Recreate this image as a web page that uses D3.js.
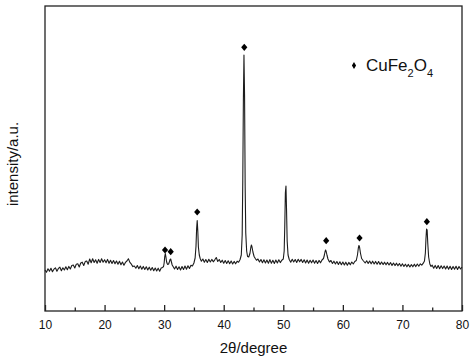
<!DOCTYPE html>
<html>
<head>
<meta charset="utf-8">
<script src="https://cdn.jsdelivr.net/npm/d3@7"></script>
<style>
  html, body { margin: 0; padding: 0; background: #fff; }
  svg { display: block; font-family: Arial, "Liberation Sans", sans-serif; }
</style>
</head>
<body>
<svg id="chart" width="474" height="361"></svg>
<script>
// ---- data ----
const scan = [
  [10.00,410],[10.25,388],[10.50,422],[10.75,398],[11.00,428],[11.25,392],[11.50,418],[11.75,432],
  [12.00,398],[12.25,426],[12.50,438],[12.75,402],[13.00,433],[13.25,410],[13.50,442],[13.75,412],
  [14.00,446],[14.25,420],[14.50,455],[14.75,460],[15.00,430],[15.25,468],[15.50,472],[15.75,440],
  [16.00,480],[16.25,488],[16.50,455],[16.75,494],[17.00,500],[17.25,468],[17.50,520],[17.75,482],
  [18.00,522],[18.25,485],[18.50,512],[18.75,478],[19.00,516],[19.25,485],[19.50,522],[19.75,488],
  [20.00,512],[20.25,482],[20.50,516],[20.75,478],[21.00,508],[21.25,475],[21.50,505],[21.75,472],
  [22.00,500],[22.25,468],[22.50,498],[22.75,462],[23.00,490],[23.25,458],[23.50,486],[23.75,500],
  [24.00,522],[24.25,486],[24.50,468],[24.75,444],[25.00,450],[25.25,428],[25.50,455],[25.75,422],
  [26.00,450],[26.25,418],[26.50,446],[26.75,415],[27.00,442],[27.25,410],[27.50,438],[27.75,408],
  [28.00,435],[28.25,402],[28.50,430],[28.75,400],[29.00,428],[29.25,398],[29.50,430],[29.75,436],
  [29.90,445],[30.00,480],[30.10,545],[30.20,575],[30.30,540],[30.40,495],[30.50,475],[30.60,465],
  [30.75,470],[30.90,495],[31.00,515],[31.10,520],[31.20,495],[31.35,460],[31.50,445],[31.75,420],
  [32.00,448],[32.25,415],[32.50,442],[32.75,410],[33.00,445],[33.25,415],[33.50,450],[33.75,418],
  [34.00,452],[34.25,425],[34.50,458],[34.75,450],[35.00,480],[35.20,530],[35.35,650],[35.45,820],
  [35.55,905],[35.65,800],[35.75,640],[35.90,560],[36.05,525],[36.25,498],[36.50,520],[36.75,488],
  [37.00,515],[37.25,486],[37.50,518],[37.75,490],[38.00,516],[38.25,492],[38.50,512],[38.75,535],
  [39.00,495],[39.25,515],[39.50,486],[39.75,508],[40.00,478],[40.25,505],[40.50,475],[40.75,502],
  [41.00,472],[41.25,500],[41.50,470],[41.75,496],[42.00,472],[42.25,498],[42.50,488],[42.75,515],
  [42.95,560],[43.10,760],[43.20,1300],[43.30,2100],[43.40,2560],[43.50,2150],[43.60,1250],[43.70,780],
  [43.85,600],[44.00,545],[44.20,540],[44.40,575],[44.55,635],[44.65,660],[44.75,640],[44.90,590],
  [45.10,545],[45.30,525],[45.50,508],[45.75,520],[46.00,490],[46.25,515],[46.50,482],[46.75,512],
  [47.00,480],[47.25,510],[47.50,478],[47.75,514],[48.00,478],[48.25,508],[48.50,475],[48.75,510],
  [49.00,480],[49.25,512],[49.50,484],[49.75,508],[50.00,520],[50.15,600],[50.25,850],[50.35,1180],
  [50.45,1250],[50.55,1000],[50.65,700],[50.80,560],[51.00,515],[51.25,488],[51.50,518],[51.75,490],
  [52.00,515],[52.25,485],[52.50,518],[52.75,492],[53.00,516],[53.25,485],[53.50,512],[53.75,480],
  [54.00,510],[54.25,478],[54.50,508],[54.75,482],[55.00,510],[55.25,478],[55.50,505],[55.75,476],
  [56.00,506],[56.25,482],[56.50,510],[56.75,525],[56.90,560],[57.00,590],[57.10,610],[57.20,595],
  [57.35,555],[57.50,520],[57.75,490],[58.00,505],[58.25,475],[58.50,498],[58.75,470],[59.00,495],
  [59.25,465],[59.50,492],[59.75,462],[60.00,490],[60.25,460],[60.50,488],[60.75,458],[61.00,486],
  [61.25,462],[61.50,490],[61.75,470],[62.00,495],[62.25,505],[62.45,560],[62.60,630],[62.70,655],
  [62.80,640],[62.95,580],[63.15,525],[63.40,505],[63.75,480],[64.00,502],[64.25,476],[64.50,500],
  [64.75,472],[65.00,498],[65.25,470],[65.50,496],[65.75,468],[66.00,494],[66.25,466],[66.50,490],
  [66.75,464],[67.00,488],[67.25,462],[67.50,486],[67.75,460],[68.00,484],[68.25,456],[68.50,480],
  [68.75,454],[69.00,478],[69.25,452],[69.50,475],[69.75,448],[70.00,472],[70.25,446],[70.50,468],
  [70.75,442],[71.00,466],[71.25,440],[71.50,464],[71.75,442],[72.00,468],[72.25,444],[72.50,470],
  [72.75,448],[73.00,472],[73.25,458],[73.50,478],[73.70,500],[73.85,580],[73.95,720],[74.05,820],
  [74.15,810],[74.25,680],[74.40,540],[74.60,470],[74.80,445],[75.00,458],[75.25,428],[75.50,456],
  [75.75,425],[76.00,455],[76.25,422],[76.50,452],[76.75,424],[77.00,450],[77.25,420],[77.50,450],
  [77.75,418],[78.00,448],[78.25,416],[78.50,446],[78.75,418],[79.00,448],[79.25,416],[79.50,446],
  [79.75,420],[80.00,440]
];
const markerTheta = [30.15, 31.1, 35.55, 43.45, 57.2, 62.8, 74.1];
const markerIntensity = [610, 593, 990, 2637, 703, 730, 893];
const xMajorTicks = [10, 20, 30, 40, 50, 60, 70, 80];
const xMinorTicks = [15, 25, 35, 45, 55, 65, 75];
const xDomain = [10, 80];
const yDomain = [0, 3050];
const legendLabel = ["CuFe", "2", "O", "4"];
const xTitle = "2θ/degree";
const yTitle = "intensity/a.u.";

// ---- layout ----
const svg = d3.select("#chart");
const L = 45, R = 462, T = 6, B = 311;
const x = d3.scaleLinear().domain(xDomain).range([L, R]);
const y = d3.scaleLinear().domain(yDomain).range([B, T]);

// pattern line
const line = d3.line().x(d => x(d[0])).y(d => y(d[1]));
svg.append("path")
  .datum(scan)
  .attr("d", line)
  .attr("fill", "none")
  .attr("stroke", "#1c1c1c")
  .attr("stroke-width", 1.1)
  .attr("stroke-linejoin", "round");

// frame
svg.append("rect")
  .attr("x", L).attr("y", T).attr("width", R - L).attr("height", B - T)
  .attr("fill", "none").attr("stroke", "#222").attr("stroke-width", 1.3);

// bottom axis, inward ticks
const axMajor = d3.axisBottom(x).tickValues(xMajorTicks).tickSizeInner(-6).tickSizeOuter(0).tickPadding(0).tickFormat(d3.format("d"));
const gMaj = svg.append("g").attr("transform", `translate(0,${B})`).call(axMajor);
gMaj.select(".domain").remove();
gMaj.selectAll(".tick line").attr("stroke", "#222").attr("stroke-width", 1.3);
gMaj.selectAll(".tick text")
  .attr("y", 17.5).attr("dy", null)
  .attr("font-size", 12).attr("fill", "#111")
  .attr("font-family", "Arial, 'Liberation Sans', sans-serif");

const axMinor = d3.axisBottom(x).tickValues(xMinorTicks).tickSizeInner(-3.5).tickSizeOuter(0).tickFormat("");
const gMin = svg.append("g").attr("transform", `translate(0,${B})`).call(axMinor);
gMin.select(".domain").remove();
gMin.selectAll(".tick line").attr("stroke", "#222").attr("stroke-width", 1.3);

// axis titles
svg.append("text")
  .attr("x", (L + R) / 2).attr("y", 353)
  .attr("text-anchor", "middle").attr("font-size", 15).attr("fill", "#111")
  .text(xTitle);
svg.append("text")
  .attr("transform", `translate(18,164) rotate(-90)`)
  .attr("text-anchor", "middle").attr("font-size", 15).attr("fill", "#111")
  .text(yTitle);

// peak markers
const diamond = "M0,-3.6L3.1,0L0,3.6L-3.1,0Z";
svg.append("g").selectAll("path")
  .data(markerTheta.map((t, i) => [t, markerIntensity[i]]))
  .join("path")
  .attr("d", diamond)
  .attr("transform", d => `translate(${x(d[0])},${y(d[1])})`)
  .attr("fill", "#000");

// legend
svg.append("path")
  .attr("d", d3.symbol().type(d3.symbolDiamond).size(15)())
  .attr("transform", "translate(354,65.5)")
  .attr("fill", "#000");
const lt = svg.append("text").attr("x", 366).attr("y", 70.7).attr("font-size", 17).attr("fill", "#111");
lt.append("tspan").text(legendLabel[0]);
lt.append("tspan").attr("font-size", 11).attr("dy", 6.5).text(legendLabel[1]);
lt.append("tspan").attr("dy", -6.5).text(legendLabel[2]);
lt.append("tspan").attr("font-size", 11).attr("dy", 6.5).text(legendLabel[3]);
</script>
</body>
</html>
